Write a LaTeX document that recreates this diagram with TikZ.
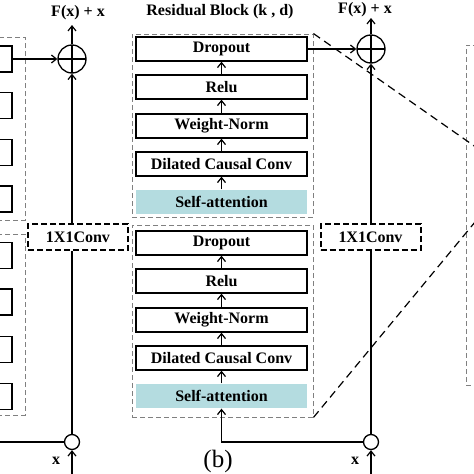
\documentclass[tikz,border=0pt]{standalone}
\usepackage{fontspec}
\setmainfont{Liberation Serif}
\usetikzlibrary{positioning,arrows,arrows.meta}
\definecolor{attcol}{RGB}{180,220,224}
\tikzset{
layer/.style = {draw, line width=1.3pt, minimum width=171pt, minimum height=24pt, inner sep=0pt, font=\fontsize{16}{18}\selectfont\bfseries},
attn/.style = {layer, draw=none, fill=attcol},
stub/.style = {draw, line width=1.3pt, minimum width=60pt, minimum height=26pt, inner sep=0pt},
group/.style = {draw=gray, line width=0.9pt, dash pattern=on 5pt off 3pt, inner sep=0pt},
conv/.style = {draw, line width=2pt, dash pattern=on 6pt off 3pt, minimum width=100pt, minimum height=26pt, inner sep=0pt, font=\fontsize{16}{18}\selectfont\bfseries},
sum/.style = {circle, draw, line width=1.3pt, minimum size=28pt, inner sep=0pt,
  path picture={\draw[line width=1.3pt] (path picture bounding box.north) -- (path picture bounding box.south)
  (path picture bounding box.west) -- (path picture bounding box.east);}},
splitpt/.style = {circle, draw, line width=1.3pt, minimum size=15pt, inner sep=0pt},
lbl/.style = {font=\fontsize{16}{18}\selectfont\bfseries, inner sep=0pt},
diag/.style = {line width=1.2pt, dash pattern=on 8pt off 5pt},
link/.style = {line width=1.2pt}
}
\begin{document}
\begin{tikzpicture}[x=1pt, y=-1pt, >={Straight Barb[length=5pt,width=8pt]}]
\useasboundingbox (0,0) rectangle (474,474);
\clip (0,0) rectangle (474,474);

% left block (cut off)
\node [group, minimum width=100pt, minimum height=183pt] (lgrp1) at (-25,128.5) {};
\node [group, minimum width=100pt, minimum height=181pt] (lgrp2) at (-25,324.5) {};
\foreach \y [count=\i] in {59,105.5,152.5,199,255.5,302,349.5,396.5}
  \node [stub] (ls\i) at (-18,\y) {};

\node [sum] (lsum) at (72,59) {};
\node [lbl] (lout) at (78,13) {F(x) + x};
\coordinate (ltop) at (72,25);
\node [conv] (lconv) at (78,237) {1X1Conv};
\node [splitpt] (lsplit) at (72,442) {};
\coordinate (lin) at (-5,442);
\coordinate (lxin) at (72,480);
\node [lbl] (lx) at (56,461) {x};

\draw [link,->] (ls1.east) -- (lsum.west);
\draw [link,->] (lsum.north) -- (ltop);
\draw [link,->] (lconv.north -| lsum) -- (lsum.south);
\draw [link] (lsplit.north) -- (lconv.south -| lsplit);
\draw [link] (lin) -- (lsplit.west);
\draw [link,->] (lxin) -- (lsplit.south);

% residual block (k, d)
\node [lbl] (title) at (220,12) {Residual Block (k , d)};
\node [group, minimum width=181pt, minimum height=183pt] (top) at (222.5,125.5) {};
\node [group, minimum width=181pt, minimum height=192pt] (bot) at (222.5,321) {};
\foreach \o/\k in {0/1,194/2}
{
  \node [layer] (drop\k) at (221.5,49+\o) {Dropout};
  \node [layer] (relu\k) at (221.5,87+\o) {Relu};
  \node [layer] (norm\k) at (221.5,126+\o) {Weight-Norm};
  \node [layer] (dil\k) at (221.5,164+\o) {Dilated Causal Conv};
  \node [attn] (att\k) at (221.5,202+\o) {Self-attention};
  \draw [link,->] (att\k) -- (dil\k);
  \draw [link,->] (dil\k) -- (norm\k);
  \draw [link,->] (norm\k) -- (relu\k);
  \draw [link,->] (relu\k) -- (drop\k);
}
\node [font=\fontsize{25}{27}\selectfont, inner sep=0pt] (cap) at (218,461) {(b)};

% right block
\node [sum] (rsum) at (371,49) {};
\node [lbl] (rout) at (365,10) {F(x) + x};
\coordinate (rtop) at (371,18);
\node [conv] (rconv) at (370.5,237) {1X1Conv};
\node [splitpt] (rsplit) at (371,442) {};
\coordinate (rxin) at (371,480);
\node [lbl] (rx) at (355,461) {x};

\draw [link,->] (drop1.east) -- (rsum.west);
\draw [link,->] (rsum.north) -- (rtop);
\draw [link,->] (rconv.north -| rsum) -- (rsum.south);
\draw [link] (rsplit.north) -- (rconv.south -| rsplit);
\draw [link,->] (rsplit.west) -| (att2.south);
\draw [link,->] (rxin) -- (rsplit.south);

% zoomed view (cut off)
\node [group, minimum width=60pt, minimum height=340pt] (zoom) at (496,215) {};
\coordinate (za) at (480,150);
\coordinate (zb) at (480,216);
\draw [diag] (top.north east) -- (za);
\draw [diag] (bot.south east) -- (zb);
\end{tikzpicture}
\end{document}
